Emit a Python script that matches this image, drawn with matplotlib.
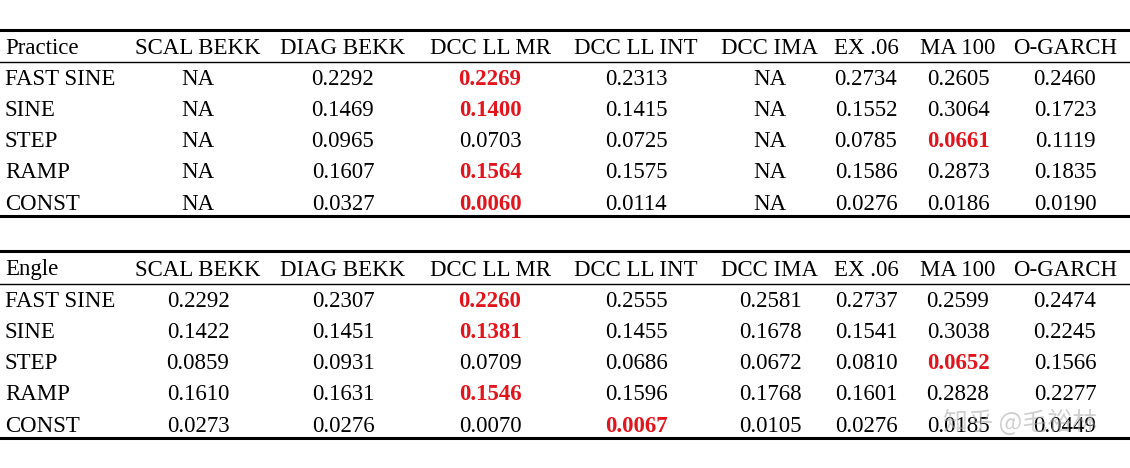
import matplotlib
matplotlib.use("Agg")
import matplotlib.pyplot as plt

columns = ["SCAL BEKK", "DIAG BEKK", "DCC LL MR", "DCC LL INT", "DCC IMA", "EX .06", "MA 100", "O-GARCH"]
rows = ["FAST SINE", "SINE", "STEP", "RAMP", "CONST"]
practice = [
    ["NA", "0.2292", "0.2269", "0.2313", "NA", "0.2734", "0.2605", "0.2460"],
    ["NA", "0.1469", "0.1400", "0.1415", "NA", "0.1552", "0.3064", "0.1723"],
    ["NA", "0.0965", "0.0703", "0.0725", "NA", "0.0785", "0.0661", "0.1119"],
    ["NA", "0.1607", "0.1564", "0.1575", "NA", "0.1586", "0.2873", "0.1835"],
    ["NA", "0.0327", "0.0060", "0.0114", "NA", "0.0276", "0.0186", "0.0190"],
]
practice_best = [2, 2, 6, 2, 2]
engle = [
    ["0.2292", "0.2307", "0.2260", "0.2555", "0.2581", "0.2737", "0.2599", "0.2474"],
    ["0.1422", "0.1451", "0.1381", "0.1455", "0.1678", "0.1541", "0.3038", "0.2245"],
    ["0.0859", "0.0931", "0.0709", "0.0686", "0.0672", "0.0810", "0.0652", "0.1566"],
    ["0.1610", "0.1631", "0.1546", "0.1596", "0.1768", "0.1601", "0.2828", "0.2277"],
    ["0.0273", "0.0276", "0.0070", "0.0067", "0.0105", "0.0276", "0.0185", "0.0449"],
]
engle_best = [2, 2, 6, 2, 3]

W, H = 1130, 468
fig = plt.figure(figsize=(W / 100, H / 100), dpi=100)
fig.patch.set_facecolor("white")
plt.rcParams["font.family"] = ["Liberation Serif", "DejaVu Serif"]
col_x = [198, 343, 490, 636, 770, 866, 958, 1065]
RED = "#e3141b"
FS = 16.5

def px(x, y):
    return x / W, 1 - y / H

def hline(y, lw):
    fig.add_artist(plt.Line2D([0, 1130 / W], [1 - y / H] * 2, color="black", lw=lw))

def block(title, data, best, y0, top, mid, bot):
    hline(top, 2.2)
    hline(mid, 1.0)
    hline(bot, 2.2)
    fig.text(*px(5, y0), title, fontsize=FS, va="center", ha="left")
    for c, x in zip(columns, col_x):
        fig.text(*px(x, y0), c, fontsize=FS, va="center", ha="center")
    for i, (r, vals) in enumerate(zip(rows, data)):
        y = y0 + 31.2 * (i + 1)
        fig.text(*px(5, y), r, fontsize=FS, va="center", ha="left")
        for j, (v, x) in enumerate(zip(vals, col_x)):
            if j == best[i]:
                fig.text(*px(x, y), v, fontsize=FS, va="center", ha="center", color=RED, fontweight="bold")
            else:
                fig.text(*px(x, y), v, fontsize=FS, va="center", ha="center")

block("Practice", practice, practice_best, 48, 30, 62, 216)
block("Engle", engle, engle_best, 270, 251, 284, 438)

fig.text(*px(1020, 423), "知乎 @毛裕林", fontsize=18, va="center", ha="center", color="#aaaaaa", alpha=0.55,
         family=["Noto Sans CJK SC", "DejaVu Sans"])

fig.savefig("out.png", dpi=100, facecolor="white")
